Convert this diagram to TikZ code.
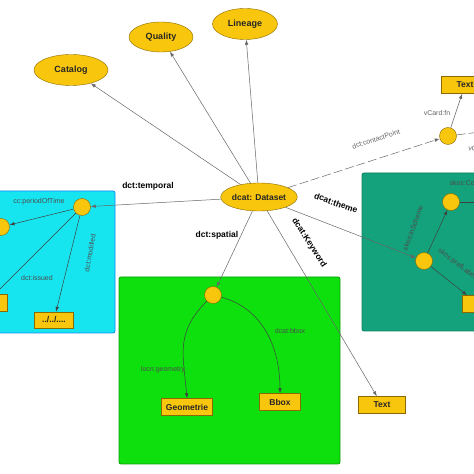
\documentclass[tikz,border=0pt]{standalone}
\usepackage{fontspec}
\setmainfont{Liberation Sans}
\usetikzlibrary{shapes.geometric,arrows.meta}
\definecolor{nodeyellow}{HTML}{F8C60C}
\definecolor{nodeborder}{HTML}{8A6A00}
\definecolor{timecyan}{HTML}{16E5F0}
\definecolor{spacegreen}{HTML}{0DE00D}
\definecolor{themeteal}{HTML}{13A27B}

\begin{document}
\begin{tikzpicture}[x=1pt, y=1pt,
    concept/.style={ellipse, draw=nodeborder, fill=nodeyellow, inner sep=0pt, text=black!85, font=\bfseries\fontsize{9}{10}\selectfont},
    res/.style={circle, draw=nodeborder, fill=nodeyellow, minimum size=17pt, inner sep=0pt},
    lit/.style={rectangle, draw=nodeborder, fill=nodeyellow, minimum height=17pt, inner sep=2pt, text=black!85, font=\bfseries\fontsize{8.5}{10}\selectfont},
    group/.style={rounded corners=2pt, line width=0.8pt},
    link/.style={draw=black!60, line width=0.5pt, -{Latex[length=5pt,width=3.5pt]}},
    inlink/.style={draw=black!75, line width=0.5pt, -{Latex[length=5pt,width=3.5pt]}},
    dashlink/.style={link, dash pattern=on 9pt off 3pt},
    prop/.style={font=\bfseries\fontsize{8.5}{10}\selectfont},
    sub/.style={font=\fontsize{7}{8}\selectfont, text=black!70},
  ]
  \useasboundingbox (0,0) rectangle (474,474);
  \clip (0,0) rectangle (474,474);
  \fill[white] (0,0) rectangle (474,474);

  \filldraw[group, fill=timecyan, draw=timecyan!60!blue] (-5,141) rectangle (115,283);
  \filldraw[group, fill=spacegreen, draw=spacegreen!70!black] (119,10) rectangle (340,197);
  \filldraw[group, fill=themeteal, draw=themeteal!80!black] (362,143) rectangle (490,301);

  \node[concept, minimum width=74pt, minimum height=31pt] (cat) at (71,404) {Catalog};
  \node[concept, minimum width=64pt, minimum height=30pt] (qual) at (161,437) {Quality};
  \node[concept, minimum width=65pt, minimum height=31pt] (lin) at (245,450) {Lineage};
  \node[concept, minimum width=70pt, minimum height=28pt, font=\bfseries\fontsize{8.5}{10}\selectfont] (ds) at (259,277) {dcat: Dataset};

  \node[res] (cpt) at (448,338) {};
  \node[lit, minimum width=47pt] (vtxt) at (465,389) {Text};
  \coordinate (vcend) at (480,342);

  \node[res] (tmp) at (82,267) {};
  \node[res] (pot) at (1,247) {};
  \node[lit, minimum width=42pt] (iss) at (-14,171) {};
  \node[lit, minimum width=39pt, minimum height=16pt] (mod) at (54,154) {../../....};

  \node[res] (spt) at (213,179) {};
  \node[lit, minimum width=51pt] (geo) at (187,67) {Geometrie};
  \node[lit, minimum width=41pt] (bbox) at (280,72) {Bbox};

  \node[lit, minimum width=47pt] (kwtxt) at (382,69) {Text};

  \node[res] (thm) at (424,213) {};
  \node[res] (sch) at (451,272) {};
  \node[lit, minimum width=32pt] (pref) at (478,170) {};
  \coordinate (schend) at (480,272);

  \draw[link] (ds) -- (cat);
  \draw[link] (ds) -- (qual);
  \draw[link] (ds) -- (lin);
  \draw[dashlink] (ds) -- (cpt);
  \draw[link] (cpt) -- (vtxt);
  \draw[link, dash pattern=on 9pt off 3pt, -] (cpt) -- (vcend);
  \draw[link] (ds) -- (tmp);
  \draw[link] (ds) -- (spt);
  \draw[link] (ds) -- (kwtxt);
  \draw[link] (ds) -- (thm);

  \draw[inlink] (tmp) -- (pot);
  \draw[inlink] (tmp) -- (iss);
  \draw[inlink] (tmp) -- (mod);

  \draw[inlink] (spt) to[out=225, in=95, looseness=1.15] (geo.north);
  \draw[inlink] (spt) to[out=-15, in=90] (bbox.north);

  \draw[inlink] (thm) -- (sch);
  \draw[inlink] (thm) -- (pref);
  \draw[draw=black!75, line width=0.5pt] (sch) -- (schend);

  \node[prop] (ltmp) at (148,288) {dct:temporal};
  \node[prop] (lspt) at (217,239) {dct:spatial};
  \node[prop, rotate=-57] (lkw) at (309,231) {dcat:Keyword};
  \node[prop, rotate=-20] (lthm) at (336,271) {dcat:theme};
  \node[sub, text=black!60, rotate=18] (lcpt) at (376,335) {dct:contactPoint};
  \node[sub, text=black!60] (lfn) at (437,361) {vCard:fn};
  \node[sub, text=black!60, anchor=west, rotate=-10] (lvc) at (465,327) {vCard:};

  \node[sub] (lpot) at (39,272) {cc:periodOfTime};
  \node[sub] (liss) at (37,196) {dct:issued};
  \node[sub, rotate=80] (lmod) at (90,221) {dct:modified};

  \node[sub] (lgeo) at (163,104) {locn:geometry};
  \node[sub] (lbbox) at (290,143) {dcat:bbox};

  \node[sub, rotate=70] (lsch) at (413,246) {skos:inScheme};
  \node[sub, anchor=west] (lcs) at (446,290) {skos:ConceptScheme};
  \node[sub, anchor=west, rotate=-37] (lpref) at (436,226) {skos:prefLabel};
\end{tikzpicture}
\end{document}
